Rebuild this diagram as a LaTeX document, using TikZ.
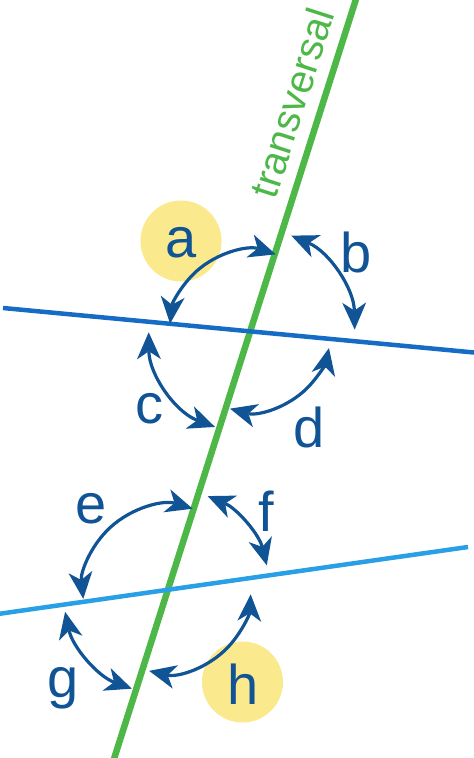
\documentclass[tikz,border=0pt]{standalone}
\usepackage{fontspec}
\setmainfont{Liberation Sans}
\usetikzlibrary{arrows.meta,calc}
\definecolor{tgreen}{RGB}{77,184,72}
\definecolor{darkline}{RGB}{22,108,196}
\definecolor{lightline}{RGB}{41,160,230}
\definecolor{arcblue}{RGB}{16,84,150}
\definecolor{hlyellow}{RGB}{251,233,142}
\tikzset{
  headtip/.tip={Stealth[length=27pt,width=24pt,inset=8pt,line width=0pt]}
}
\begin{document}
\begin{tikzpicture}[x=1pt,y=1pt,
  arcline/.style={draw=arcblue, line width=3.2pt, headtip-headtip},
  lbl/.style={text=arcblue, font=\fontsize{56}{56}\selectfont, inner sep=0pt},
  hl/.style={fill=hlyellow, circle, minimum size=81pt, inner sep=0pt},
  transline/.style={draw=tgreen, line width=6.5pt},
  upperline/.style={draw=darkline, line width=4.5pt},
  lowerline/.style={draw=lightline, line width=4.5pt}]
\useasboundingbox (0,0) rectangle (474,758);
% highlight circles
\node[hl] (hla) at (181,517) {};
\node[hl] (hlh) at (242.5,76) {};
% lines
\coordinate (T1) at (357,762);
\coordinate (T2) at (113,-4);
\coordinate (A1) at (3,450);
\coordinate (A2) at (476,405.3);
\coordinate (B1) at (-2,144);
\coordinate (B2) at (468,211);
\coordinate (U) at (250.7,426.6);
\coordinate (L) at (167.8,168);
\draw[transline] (T1) -- (T2);
\draw[upperline] (A1) -- (A2);
\draw[lowerline] (B1) -- (B2);
% transversal label
\node[text=tgreen, font=\fontsize{40}{40}\selectfont, rotate=72.2, inner sep=0pt] (tl) at (292,655) {transversal};
% angle arcs, upper intersection
\draw[arcline] ($(U)+(72:81)$) arc[start angle=72, end angle=174.5, radius=81];
\draw[arcline] ($(U)+(1:104)$) arc[start angle=1, end angle=67, radius=104];
\draw[arcline] ($(U)+(180.5:102)$) arc[start angle=180.5, end angle=249.5, radius=102];
\draw[arcline] ($(U)+(255:80)$) arc[start angle=255, end angle=348, radius=80];
% angle arcs, lower intersection
\draw[arcline] ($(L)+(73:85)$) arc[start angle=73, end angle=186, radius=85];
\draw[arcline] ($(L)+(14:102)$) arc[start angle=14, end angle=67, radius=102];
\draw[arcline] ($(L)+(192:105)$) arc[start angle=192, end angle=250, radius=105];
\draw[arcline] ($(L)+(257:83)$) arc[start angle=257, end angle=357, radius=83];
% labels
\node[lbl] (la) at (181,515) {a};
\node[lbl] (lb) at (356,506) {b};
\node[lbl] (lc) at (149,349) {c};
\node[lbl] (ld) at (309,331) {d};
\node[lbl] (le) at (91,249) {e};
\node[lbl] (lf) at (266,247) {f};
\node[lbl] (lg) at (63,70) {g};
\node[lbl] (lh) at (243,74) {h};
\end{tikzpicture}
\end{document}
